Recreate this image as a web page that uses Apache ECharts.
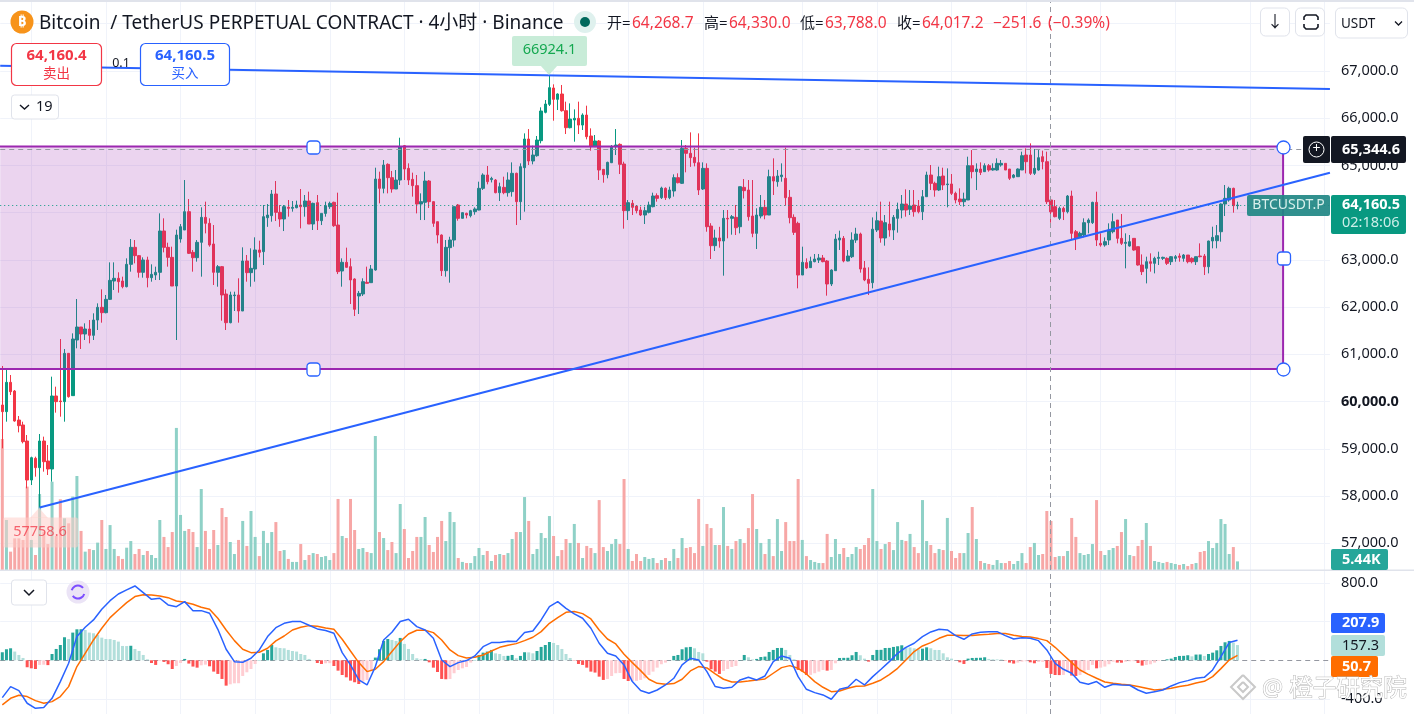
<!DOCTYPE html>
<html><head><meta charset="utf-8">
<style>html,body{margin:0;padding:0;background:#fff}#c{width:1414px;height:714px}</style>
<script src="https://cdn.jsdelivr.net/npm/echarts@6/dist/echarts.min.js"></script>
</head><body><div id="c"></div>
<script>
const opens=[59928,59787,60408,60224,59610,59505,59166,58340,58799,58602,
59166,58742,58573,60119,60013,59999,61022,60126,61304,61579,
61431,61537,61403,61727,61996,61883,62165,62553,62610,62553,
62433,62906,63266,63090,62737,62998,62624,62680,62737,63612,
63266,63054,62447,63442,63633,64021,63160,63047,63372,63901,
63774,63337,62737,62857,62278,61671,62243,62257,61918,62977,
62730,62807,63210,63174,63893,63936,64395,64007,63866,64113,
64092,64106,64162,64127,64247,63760,64212,63830,63985,64127,
64219,63738,62765,62949,62857,62596,62236,62278,62525,62518,
62786,64712,64515,65023,64741,64501,64691,65418,64938,64705,
64572,64183,64219,64670,64233,63809,63527,62772,63259,63421,
64162,63880,63985,63936,64021,64056,64515,64797,64700,64691,
64423,64536,64423,64445,64833,64233,64952,65559,65094,65206,
65524,66124,66293,66639,66399,66512,66159,65799,65962,65997,
65855,66067,65623,65397,65517,64917,64804,65058,65397,65446,
65030,64042,64198,64141,64056,63950,64007,64127,64360,64317,
64515,64317,64459,64741,64621,65361,65256,65171,65058,64501,
64938,63717,63301,63464,63400,63880,63880,63901,63703,64536,
64480,63929,63562,63929,64113,63950,64762,64656,64762,64727,
64325,63901,63774,62680,62942,62836,62963,62998,63040,62977,
62490,62772,63421,63457,62977,63068,63421,63548,62829,62589,
62518,63633,63823,63464,63760,63633,63880,64056,64183,64070,
64162,64141,64021,64338,64797,64621,64479,64776,64593,64607,
64409,64289,64232,64268,64995,64868,64924,64868,64995,64903,
64903,65009,65044,64924,64748,64762,64903,65220,65220,64832,
64903,65185,65079,64268.7,64127,63880,64091,64021,64352,63597,
63491,63527,63788,63788,64218,63350,63315,63421,63597,63844,
63456,63350,63294,63456,63280,62892,62821,62962,62927,63033,
63033,63033,62962,63033,63082,63033,63103,63033,62962,63082,
63082,62856,63400,63407,63597,64183,64268,64515,64148];
const closes=[59787,60408,60210,59589,59490,59152,58340,58813,58602,59166,
58728,58573,60119,59999,59999,61022,60105,61325,61579,61431,
61537,61403,61727,61996,61883,62165,62567,62610,62539,62433,
62906,63266,63090,62737,62998,62624,62694,62737,63612,63266,
63054,62447,63527,63703,64021,63139,63047,63372,63901,63774,
63315,62737,62857,62257,61671,62257,62257,61918,62977,62730,
62821,63210,63160,63915,63950,64395,64007,63866,64127,64092,
64113,64162,64127,64247,63760,64197,63830,63985,64148,64197,
63724,62751,62949,62843,62575,61954,62292,62539,62504,62807,
64712,64515,65009,64741,64501,64691,65397,64924,64691,64572,
64183,64233,64670,64233,63774,63527,62772,63266,63421,64127,
63880,64000,63950,64042,64078,64515,64797,64656,64726,64423,
64550,64423,64691,64833,64233,64974,65559,65094,65220,65538,
66152,66300,66646,66399,66512,66159,65799,65982,65997,65855,
66067,65609,65397,65517,64903,64804,65065,65383,65432,65023,
64042,64212,64113,64042,63950,64042,64162,64353,64303,64522,
64317,64480,64741,64635,65361,65256,65164,65058,64480,64938,
63703,63301,63464,63400,63880,63866,63915,63682,64550,64466,
63915,63562,63950,64113,63950,64762,64670,64776,64797,64317,
63894,63583,62680,62949,62829,62970,63019,63040,62963,62490,
62786,63442,63464,62977,63082,63421,63548,62807,62575,62504,
63650,63830,63464,63788,63633,63901,64070,64183,64056,64141,
64021,64021,64338,64797,64621,64479,64762,64586,64607,64409,
64268,64232,64289,64995,64868,64924,64853,64995,64903,64938,
65044,65044,64903,64727,64797,64924,65206,65079,64832,64938,
65164,65079,64232,64017.2,63915,64091,64021,64352,63562,63456,
63562,63788,63844,64218,63421,63315,63386,63632,63809,63456,
63350,63372,63386,63209,62892,62751,62962,62927,63033,63054,
63054,62927,63068,63068,63054,63103,62962,62962,63068,63068,
62856,63400,63477,63513,64183,64303,64515,64148,64160.5];
const highs=[60754,60669,60563,60246,59695,59575,59293,58834,58834,59314,
59258,59081,60528,60316,61325,61114,61022,61445,62172,61579,
61657,61727,61869,62080,62377,62257,62948,62948,62737,62645,
63033,63442,63421,63104,63054,63068,62906,62857,63986,63880,
63364,63280,63640,63760,64691,64289,63210,63421,64113,64233,
63880,63738,62892,62871,62377,62327,62327,62610,63266,63104,
63245,63478,63407,64162,64183,64480,64670,64162,64162,64268,
64247,64254,64501,64374,64445,64212,64374,63985,64233,64233,
64233,64423,63033,63259,63033,62610,62342,62610,62857,62892,
64952,64868,65115,65044,64883,64903,65587,65432,65044,64847,
64797,64409,64868,64691,64240,63809,63540,63421,63490,64127,
64183,64007,64000,64060,64113,64656,64833,64988,64760,64712,
64635,64762,64854,65065,64847,65044,65679,65770,65418,65623,
66230,66385,66924.1,66717,66526,66703,66350,66314,66187,66350,
66103,66265,65785,65644,65538,64924,65079,65432,65770,65467,
65079,64268,64268,64162,64127,64127,64233,64423,64409,64550,
64536,64550,64811,64833,65538,65432,65700,65376,65679,65065,
65044,63777,63640,63700,64056,64056,63950,64162,64550,64712,
64691,64691,64092,64374,64268,64910,65150,64903,65044,65376,
64480,63964,63809,63280,63033,63068,63125,63125,63104,62998,
62800,63549,63619,63506,63209,63584,63680,63577,62977,62843,
63900,64021,64233,63950,64233,63950,64212,64374,64494,64479,
64479,64268,64479,64868,65009,64656,64974,64952,64938,64818,
64444,64515,64423,65185,65326,65044,65065,65044,65030,65044,
65150,65115,65044,64924,64818,64938,65291,65362,65467,65348,
65348,65312,65291,64330,64268,64127,64127,64374,64466,63633,
63597,63880,63880,64232,64444,63562,63477,63774,63985,63844,
63971,63562,63527,63456,63280,63117,63068,63139,63068,63174,
63068,63054,63082,63103,63139,63125,63103,63054,63068,63350,
63125,63407,63703,63738,64197,64586,64550,64529,64232];
const lows=[59011,59575,60140,59575,59349,59116,58164,58234,58411,57758.6,
58517,58446,58305,59766,59681,59575,60084,60126,61128,61114,
61304,61234,61304,61516,61671,61869,62151,62363,62306,62398,
62419,62751,62927,62624,62624,62419,62539,62574,62574,63160,
62857,62447,61304,63365,63633,63125,62751,62963,62645,63562,
63280,62469,62433,61713,61516,61657,61918,61671,61918,62539,
62433,62539,63054,62892,63700,63809,63823,63700,63611,63915,
64021,64092,63668,63915,63760,63633,63633,63738,63915,64080,
63700,62700,62433,62835,62066,61812,61855,62236,62504,62518,
62772,64197,64410,64409,64423,64501,64586,64691,64586,64339,
63985,63844,63844,64100,63700,63350,62659,62645,62518,63280,
63830,63880,63880,63900,63957,64050,64480,64600,64640,64410,
64247,64390,64339,64339,63738,63844,64021,65009,65023,65185,
65467,66103,66258,65947,66173,66138,65665,65785,65503,65665,
65750,65552,65312,65390,64692,64635,64727,65050,65220,64818,
63661,63844,63950,63985,63929,63760,63985,64113,64233,64289,
64268,64285,64339,64620,64607,64854,64970,64980,64374,64480,
63597,63019,63188,63259,62666,63457,63534,63527,63562,64300,
63830,63480,63231,63880,63860,63950,64374,64550,64656,64148,
63774,63527,62398,62680,62807,62829,62949,62935,62949,62243,
62447,62772,63210,62949,62970,63040,63360,62730,62550,62257,
62398,63590,63365,63301,63492,63421,63577,63880,63915,63950,
63915,63985,63844,64338,64479,64338,64458,64479,64113,64374,
64197,64162,64127,64268,64727,64479,64797,64882,64868,64889,
64889,64974,64903,64691,64727,64762,64903,64832,64797,64797,
64889,64917,64183,63788,63901,63844,63844,63985,63421,63209,
63477,63477,63562,63760,63294,63280,63280,63315,63562,63350,
63315,62821,63280,63195,62878,62680,62503,62751,62715,62892,
62998,62892,62892,62962,62962,62962,62927,62927,62892,63054,
62680,62715,63245,63245,63386,63929,64232,64000,64070];
const volumes=[82.8,31.6,11.6,20,20,19,52.7,19,9.5,48,24.2,16.4,55.8,21.5,44.7,32.7,29.5,46.4,59.4,24.7,
11.6,13.3,12.6,17.3,31.6,13.3,28.4,13.3,8.8,7,14.1,18.3,10.1,13.3,9.5,12,9.5,7.6,31.6,20.9,
14.5,24,89.8,34.8,24.7,25.9,24,14.5,51.2,24.7,13.3,25.3,15.8,39.2,33.5,17.7,10.1,19,31,15.2,
37.3,20.9,8.8,24.7,17.1,24,30.3,12,12.6,7,5.1,5.1,16.4,6.3,9.5,10.7,10.1,8.2,8.8,6.3,
10.7,44.9,21.5,20.2,44.9,25.3,13.3,13.9,11.4,10.7,84.7,24,20.2,12.6,17.7,10.7,41.7,25.9,7.6,12,
20.9,20.9,33.5,15.8,11.4,20.9,31,18.3,36.7,30.3,7.6,5.1,4.4,4.4,8.8,13.9,9.5,12,
5.7,9.5,10.1,9.5,10.7,19.6,24,24,46.1,31,10.1,13.3,23.4,20.2,34.1,21.5,8.8,12.6,19.6,17.1,
29.1,17.1,7.6,15.2,13.9,10.7,44.2,14.5,12,16.4,19.6,16.4,57.5,13.3,5.7,10.1,5.7,8.2,7,7.6,
4.4,6.3,7.6,5.7,13.3,7.6,20.2,13.9,14.5,10.7,44.9,15.2,29.1,26.5,15.8,15.8,39.8,15.2,13.3,18.3,
19.6,17.1,26.5,48,25.9,17.1,10.1,19.6,8.8,32.2,12,30.3,18.3,18.3,57.5,19,8.8,6.3,5.1,4.4,
4.4,22.8,8.2,19.6,10.1,13.9,8.2,10.1,14.5,13.3,15.8,20.2,51.2,18.3,13.3,16.4,17.7,12.6,30.3,
19,18.3,22.8,14.5,10.7,44.2,18.3,15.8,10.7,13.3,12.6,32.9,12,7.6,10.7,10.7,23.4,39.8,19.6,5.7,
4.4,3.8,3.2,6.3,4.4,4.4,5.7,3.8,5.7,10.7,4.4,14.5,17.1,9.5,10.1,37.3,31,8.2,8.8,8.8,
12,32.9,20.9,10.7,9.5,10.1,16.4,44.2,12,9.5,12.6,13.9,15.2,24,32.2,9.5,8.8,15.2,19,29.7,
15.2,5.7,5.1,4.4,5.1,4.4,3.8,3.2,3.8,2.5,3.8,4.4,11.4,12,18.3,13.9,17.1,32.2,29.1,10.1,14.5,5.44];
const hist=[83,114,124,90,55,24,-72,-83,-90,-48,-46,-50,65,117,158,238,220,286,320,321,313,286,279,262,234,220,219,210,193,148,147,150,117,96,55,10,-28,-48,-7,-17,-41,-90,-59,-28,14,-34,-65,-76,-52,-45,-62,-117,-141,-193,-262,-248,-238,-237,-162,-124,-90,-38,3,72,107,158,134,127,124,107,96,90,65,55,14,3,-28,-38,-31,-30,-59,-107,-152,-176,-210,-227,-245,-220,-203,-100,28,114,200,220,210,200,231,169,117,65,21,10,14,-21,-76,-121,-193,-196,-193,-134,-100,-83,-69,
-24,3,55,79,90,107,72,65,45,46,55,21,45,83,82,72,96,138,158,189,179,158,117,65,24,-3,-38,-48,-76,-117,-127,-169,-203,-193,-162,-134,-131,-193,-214,-213,-212,-203,-186,-152,-117,-76,-41,-24,1,45,55,114,134,138,124,86,72,-14,-93,-117,-141,-110,-90,-69,-59,3,55,31,8,14,34,38,86,107,127,128,107,55,10,-100,-117,-152,-151,-134,-117,-100,-107,-100,-31,24,25,26,52,86,52,17,-14,55,107,108,127,128,138,145,155,134,133,124,114,120,134,124,107,106,
72,31,17,3,-21,-38,17,24,25,26,31,14,10,9,8,-3,-24,-34,-24,-14,-10,-21,-31,-17,-16,-79,-141,-152,-153,-151,-117,-158,-162,-152,-117,-100,-48,-83,-76,-65,-41,-14,-24,-25,-14,-10,-9,-28,-55,-48,-41,-24,-7,2,10,17,34,45,46,52,41,59,60,45,65,79,103,148,186,200,183,157.3];
// MACD lines, read at every second candle
const dif=[-386,-272,-313,-444,-496,-489,-393,-220,-31,245,341,417,527,616,685,727,768,699,630,641,572,554,606,513,513,486,320,114,-14,-21,21,107,245,337,382,400,400,362,324,307,279,79,-48,-203,-255,-65,210,289,400,424,348,313,227,3,-65,-24,-3,
45,141,183,183,196,193,286,303,417,554,606,537,479,434,331,176,72,45,-48,-220,-313,-341,-307,-255,-186,-48,21,3,-117,-272,-289,-279,-203,-176,-203,-162,-14,45,21,-169,-300,-334,-358,-403,-300,-279,-196,-255,-169,-93,-14,72,134,176,245,293,320,
313,255,217,272,289,296,296,255,220,234,227,203,107,-31,-93,-134,-227,-248,-220,-279,-248,-255,-258,-307,-341,-324,-307,-265,-231,-210,-186,-176,-100,38,183,207.9];
const dea=[-461,-393,-362,-375,-417,-444,-427,-375,-272,-65,72,210,331,441,520,596,658,678,675,665,647,613,599,579,548,527,434,313,203,114,79,83,124,200,251,313,341,358,351,334,320,217,96,-24,-117,-93,-14,90,193,272,310,310,286,210,107,48,24,
31,55,96,134,155,172,203,238,296,382,441,496,503,482,427,313,220,169,62,-24,-107,-196,-238,-248,-241,-196,-110,-65,-79,-141,-196,-224,-224,-214,-203,-193,-134,-76,-55,-83,-141,-220,-279,-324,-317,-289,-269,-265,-238,-203,-148,-83,3,90,148,183,227,
258,258,255,255,265,269,276,276,258,245,241,224,203,134,55,-24,-100,-145,-186,-224,-238,-248,-255,-272,-289,-307,-300,-289,-272,-258,-234,-217,-169,-86,3,50.7];
const priceTicks=[57000,58000,59000,60000,61000,62000,63000,64000,65000,66000,67000];
const priceGrid=priceTicks.concat([68000]);
const macdGrid=[-400,400,800];
const macdLabels=[-400,800];
const vGridIdx=[7,25,43,61,79,97,115,133,151,169,193,211,229,247,265,283,301,319];
const boxTop=65400, boxBottom=60690, boxRightIdx=309;
const lastPrice=64160.5, crossPrice=65344.6, crossIdx=252.8;
const lowerTrend=[[9,57758.6],[320.3,64846]];
const upperTrend=[[-0.5,67111],[320.3,66617]];

const UP='#089981',DOWN='#f23645';
const candles=opens.map((o,i)=>[i,o,closes[i],lows[i],highs[i]]);
const volData=volumes.map((v,i)=>({value:[i,v],itemStyle:{color:closes[i]>=opens[i]?'#8fd1c7':'#f7a7a6'}}));
const histData=hist.map((v,i)=>{const p=i?hist[i-1]:0;
  const c=v>=0?(v>=p?'#26a69a':'#b2dfdb'):(v<p?'#ff5252':'#ffcdd2');
  return {value:[i,v],itemStyle:{color:c}};});
const line2=a=>a.map((v,i)=>[i*2,v]);
const FONT='"Noto Sans","Noto Sans CJK SC",sans-serif';
const xBase={type:'value',min:-0.5,max:320.3,axisLine:{show:false},axisLabel:{show:false},
  axisTick:{show:false,customValues:vGridIdx},splitLine:{show:true,lineStyle:{color:'#f0f3fa',width:1}}};
const fmt=v=>v.toLocaleString('en-US',{minimumFractionDigits:1,maximumFractionDigits:1});

function T(text,x,y,o){o=o||{};return {type:'text',z:o.z||50,silent:true,style:{text,x,y,fill:o.fill||'#131722',
  font:(o.weight?o.weight+' ':'')+(o.size||15)+'px '+FONT,textAlign:o.align||'left',textVerticalAlign:'middle',
  stroke:o.stroke,lineWidth:o.lw,opacity:o.op}};}
function R(x,y,w,h,fill,o){o=o||{};return {type:'rect',z:o.z||40,silent:true,shape:{x,y,width:w,height:h,r:o.r||0},
  style:{fill,stroke:o.stroke,lineWidth:o.lw||1,opacity:o.op}};}
function C(cx,cy,r,fill,o){o=o||{};return {type:'circle',z:o.z||40,silent:true,shape:{cx,cy,r},style:{fill,stroke:o.stroke,lineWidth:o.lw||1}};}
function P(points,stroke,lw,fill,z){return {type:fill?'polygon':'polyline',z:z||45,silent:true,shape:{points},style:{stroke,lineWidth:lw||1,fill:fill||'none'}};}

const g=[
 R(0,0,1414,2,'#e0e3eb',{z:60}),
 R(0,569.6,1414,1.4,'#e0e3eb',{z:6}),
 C(22,22,11.5,'#f7931a'),T('₿',22,22,{fill:'#fff',size:15,align:'center',weight:'bold'}),
 T('Bitcoin  / TetherUS PERPETUAL CONTRACT · 4小时 · Binance',39,24,{size:19}),
 C(585,22,11,'#dff1ee'),C(585,22,5,'#00695c',{z:41}),
 T('开=',607,24),T('64,268.7',632,24,{fill:DOWN,size:15.5}),
 T('高=',704,24),T('64,330.0',729,24,{fill:DOWN,size:15.5}),
 T('低=',800,24),T('63,788.0',825,24,{fill:DOWN,size:15.5}),
 T('收=',897,24),T('64,017.2',922,24,{fill:DOWN,size:15.5}),
 T('−251.6',993,24,{fill:DOWN,size:15.5}),T('(−0.39%)',1048,24,{fill:DOWN,size:15.5}),
 R(1260.5,8,29,28,'#fff',{r:5,stroke:'#e0e3eb'}),T('↓',1275,22,{align:'center',size:16}),
 R(1295.5,8,29,28,'#fff',{r:5,stroke:'#e0e3eb'}),
 P([[1304,20],[1304,17],[1306,15],[1316,15],[1318,17],[1318,20]],'#131722',1.6),
 P([[1304,24],[1304,27],[1306,29],[1316,29],[1318,27],[1318,24]],'#131722',1.6),
 R(1335.5,8,72,30,'#fff',{r:5,stroke:'#e0e3eb'}),T('USDT',1341,24,{size:13.5}),P([[1395,21.5],[1398.5,25],[1402,21.5]],'#131722',1.3),
 R(11.5,43.5,90,42,'#fff',{r:5,stroke:DOWN,lw:1.2}),T('64,160.4',56.5,56,{fill:DOWN,size:15,align:'center',weight:'bold'}),T('卖出',56.5,74,{fill:DOWN,size:13.5,align:'center'}),
 T('0.1',121,63,{size:12.5,align:'center'}),
 R(140.5,43.5,89,42,'#fff',{r:5,stroke:'#2962ff',lw:1.2}),T('64,160.5',185,56,{fill:'#2962ff',size:15,align:'center',weight:'bold'}),T('买入',185,74,{fill:'#2962ff',size:13.5,align:'center'}),
 R(11.5,95,47,24,'#fff',{r:3,stroke:'#e0e3eb'}),P([[20,105],[24.5,109],[29,105]],'#131722',1.4),T('19',36,107,{size:14.5}),
 P([[540,65],[549,75],[558,65]],'none',0,'#c8ecd8',44),R(512,36,75,30,'#c8ecd8',{r:2}),T('66924.1',549.5,50,{fill:'#14a850',size:14.5,align:'center'}),
 P([[30,518],[39,508],[48,518]],'none',0,'rgba(255,205,200,.55)',44),R(3,517.5,75,30,'rgba(255,205,200,.55)',{r:2}),T('57758.6',40,532,{fill:'#f23645',size:14.5,align:'center',op:.75}),
 R(307,141,13,13,'#fff',{r:3.5,stroke:'#2962ff',lw:1.3}),R(307,363,13,13,'#fff',{r:3.5,stroke:'#2962ff',lw:1.3}),R(1277.5,252,13,13,'#fff',{r:3.5,stroke:'#2962ff',lw:1.3}),
 C(1283.5,147.5,6.5,'#fff',{stroke:'#2962ff',lw:1.3}),C(1283.5,369.5,6.5,'#fff',{stroke:'#2962ff',lw:1.3}),
 R(1303,136,27,27,'#131722',{r:2}),C(1316.5,149.5,7.5,'#131722',{stroke:'#fff',z:41}),T('+',1316.5,149,{fill:'#fff',align:'center',size:14}),
 R(1331,136,75,27,'#131722',{r:2}),T('65,344.6',1342,149.5,{fill:'#fff',size:14.5,weight:'bold'}),
 R(1247,195,83,21,'#208784',{r:2,op:.92}),T('BTCUSDT.P',1288.5,205.5,{fill:'#d8f0ec',size:14,align:'center'}),
 R(1331,195,75,39,'#089981',{r:2}),T('64,160.5',1342,205,{fill:'#fff',size:14.5,weight:'bold'}),T('02:18:06',1342,223,{fill:'#cdeee8',size:14.5}),
 R(1331,549,57,21,'#26a69a',{r:2}),T('5.44K',1342,560,{fill:'#fff',size:14.5,weight:'bold'}),
 R(11.5,580,35,25,'#fff',{r:3,stroke:'#e0e3eb'}),P([[24,590],[29,595],[34,590]],'#131722',1.5),
 C(78,592,11.5,'#ebe4f6'),
 {type:'arc',z:45,silent:true,shape:{cx:78,cy:592,r:6.5,startAngle:3.4,endAngle:5.6},style:{stroke:'#7c4dff',lineWidth:2,fill:'none'}},
 {type:'arc',z:45,silent:true,shape:{cx:78,cy:592,r:6.5,startAngle:0.3,endAngle:2.5},style:{stroke:'#7c4dff',lineWidth:2,fill:'none'}},
 R(1331,613,54,20,'#2962ff',{r:2}),T('207.9',1342,623,{fill:'#fff',size:14.5,weight:'bold'}),
 R(1331,635,54,21,'#b2dfdb',{r:2}),T('157.3',1342,645.5,{size:14.5}),
 R(1331,656,47,21,'#ff6d00',{r:2}),T('50.7',1342,666.5,{fill:'#fff',size:14.5,weight:'bold'}),
 P([[1243,675],[1255,687],[1243,699],[1231,687],[1243,675]],'#c9c9c9',2,null,55),
 P([[1243,682],[1248,687],[1243,692],[1238,687],[1243,682]],'#c9c9c9',2,null,55),
 T('@ 橙子研究院',1262,689,{size:23.5,fill:'#ffffff',stroke:'#b5b5b5',lw:1,z:55})
];

const opt={animation:false,backgroundColor:'#fff',
 grid:[{left:0.23,top:2,width:1329.7,height:568},{left:0.23,top:571,width:1329.7,height:143}],
 xAxis:[Object.assign({gridIndex:0},xBase),Object.assign({gridIndex:1},xBase)],
 yAxis:[
  {gridIndex:0,type:'value',position:'right',min:56435,max:68460,axisLine:{show:false},
   axisTick:{show:false,customValues:priceGrid},splitLine:{show:true,lineStyle:{color:'#f0f3fa'}},
   axisLabel:{customValues:priceTicks,margin:11,color:'#131722',fontSize:14.5,fontFamily:FONT,
     formatter:v=>v===60000?'{b|'+fmt(v)+'}':fmt(v),rich:{b:{fontWeight:'bold',fontSize:14.5,fontFamily:FONT,color:'#131722'}}}},
  {gridIndex:0,type:'value',position:'left',show:false,min:0,max:359},
  {gridIndex:1,type:'value',position:'right',min:-555,max:922.5,axisLine:{show:false},
   axisTick:{show:false,customValues:macdGrid},splitLine:{show:true,lineStyle:{color:'#f0f3fa'}},
   axisLabel:{customValues:macdLabels,margin:11,color:'#131722',fontSize:14.5,fontFamily:FONT,formatter:v=>fmt(v)}}
 ],
 series:[
  {type:'bar',name:'Vol',xAxisIndex:0,yAxisIndex:1,barWidth:3,z:2,data:volData},
  {type:'candlestick',name:'BTCUSDT.P',xAxisIndex:0,yAxisIndex:0,barWidth:3,z:3,data:candles,
   itemStyle:{color:UP,color0:DOWN,borderColor:UP,borderColor0:DOWN,borderWidth:1}},
  {type:'line',name:'box',xAxisIndex:0,yAxisIndex:0,z:5,symbol:'none',
   data:[[-5,boxTop],[boxRightIdx,boxTop],[boxRightIdx,boxBottom],[-5,boxBottom]],
   lineStyle:{color:'#9c27b0',width:2},
   markArea:{z:4,silent:true,itemStyle:{color:'rgba(156,39,176,0.2)'},data:[[{coord:[-0.5,boxTop]},{coord:[boxRightIdx,boxBottom]}]]},
   markLine:{silent:true,symbol:['none','none'],label:{show:false},z:6,data:[
     {yAxis:lastPrice,lineStyle:{color:'#089981',type:[1,3],width:1}},
     {yAxis:crossPrice,lineStyle:{color:'#9598a1',type:[5,4],width:1}},
     {xAxis:crossIdx,lineStyle:{color:'#9598a1',type:[5,4],width:1}}]}},
  {type:'line',name:'support',xAxisIndex:0,yAxisIndex:0,z:7,symbol:'none',data:lowerTrend,lineStyle:{color:'#2962ff',width:2}},
  {type:'line',name:'resistance',xAxisIndex:0,yAxisIndex:0,z:7,symbol:'none',data:upperTrend,lineStyle:{color:'#2962ff',width:2}},
  {type:'bar',name:'Hist',xAxisIndex:1,yAxisIndex:2,barWidth:3,z:2,data:histData,
   markLine:{silent:true,symbol:['none','none'],label:{show:false},z:1,data:[
     {yAxis:0,lineStyle:{color:'#9598a1',type:[5,4],width:1}},
     {xAxis:crossIdx,lineStyle:{color:'#9598a1',type:[5,4],width:1}}]}},
  {type:'line',name:'DEA',xAxisIndex:1,yAxisIndex:2,z:3,symbol:'none',data:line2(dea),lineStyle:{color:'#ff6d00',width:1.5}},
  {type:'line',name:'DIF',xAxisIndex:1,yAxisIndex:2,z:4,symbol:'none',data:line2(dif),lineStyle:{color:'#2962ff',width:1.5}}
 ],
 graphic:{elements:g}
};
const chart=echarts.init(document.getElementById('c'),null,{renderer:'canvas'});
chart.setOption(opt);
</script></body></html>
